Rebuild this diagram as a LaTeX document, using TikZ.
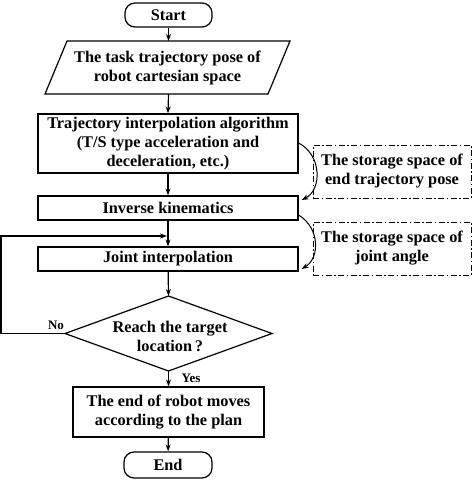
\documentclass[tikz,border=0pt]{standalone}
\usepackage{fontspec}
\setmainfont{Liberation Serif}
\usetikzlibrary{arrows.meta,calc}
\begin{document}
\begin{tikzpicture}[x=1pt,y=-1pt,
  font=\fontsize{16.3}{19}\selectfont\bfseries,
  every path/.style={line width=1.2pt},
  arr/.style={-{Stealth[length=7pt,width=5pt]}},
  box/.style={draw,rectangle,inner sep=0pt,align=center},
  term/.style={draw,rectangle,rounded corners=10pt,inner sep=0pt,align=center},
  store/.style={draw,rectangle,inner sep=0pt,align=center,dash pattern=on 6pt off 2.5pt on 1.5pt off 2.5pt,line width=1pt},
  lab/.style={inner sep=0pt,align=center},
  small/.style={inner sep=0pt,font=\fontsize{13}{15}\selectfont\bfseries}]
\useasboundingbox (0,0) rectangle (474,482);
\node[term,minimum width=87pt,minimum height=24pt] (start) at (168.5,15) {Start};
\node[lab,minimum width=201pt,minimum height=53pt] (para) at (167.5,67.5) {The task trajectory pose of\\robot cartesian space};
\draw (67,41) -- (290,41) -- (268,94) -- (45,94) -- cycle;
\node[box,minimum width=260pt,minimum height=59pt] (traj) at (168,143.5) {Trajectory interpolation algorithm\\(T/S type acceleration and\\deceleration, etc.)};
\node[box,minimum width=260pt,minimum height=24pt] (ik) at (168,208) {Inverse kinematics};
\node[box,minimum width=260pt,minimum height=24pt] (ji) at (168,259) {Joint interpolation};
\node[lab] (dia) at (170,336) {Reach the target\\location\,?};
\coordinate (dT) at (168.5,296);
\coordinate (dB) at (168.5,371);
\coordinate (dL) at (65,333.5);
\coordinate (dR) at (272,333.5);
\draw (dT) -- (dR) -- (dB) -- (dL) -- cycle;
\node[box,minimum width=191pt,minimum height=50pt] (move) at (168.5,412) {The end of robot moves\\according to the plan};
\node[term,minimum width=88pt,minimum height=26pt] (end) at (168,465) {End};
\node[store,minimum width=158pt,minimum height=53pt] (s1) at (392,171.5) {The storage space of\\end trajectory pose};
\node[store,minimum width=158pt,minimum height=53pt] (s2) at (392,248.5) {The storage space of\\joint angle};
% main flow
\draw[arr] (start) -- (168.5,41);
\draw[arr] (168.5,94) -- (traj.north);
\draw[arr] (traj) -- (ik);
\draw[arr] (ik) -- (ji);
\draw[arr] (ji) -- (dT);
\draw[arr] (dB) -- (move);
\draw[arr] (move) -- (end);
% feedback
\coordinate (fb) at (168,236);
\coordinate (fl) at (1,333.5);
\draw[arr] (dL) -- (fl) |- ($(fb)+(-1,0)$);
\node[small] (no) at (56,325) {No};
\node[small] (yes) at (191,378) {Yes};
% storage curves
\draw[arr,line width=1pt] ($(traj.east)+(0,-0.5)$) .. controls (322,155) and (322,190) .. ($(ik.east)+(3,-8)$);
\draw[arr,line width=1pt] ($(ik.east)+(0,7)$) .. controls (320,228) and (320,258) .. ($(ji.east)+(3,10)$);
\end{tikzpicture}
\end{document}
